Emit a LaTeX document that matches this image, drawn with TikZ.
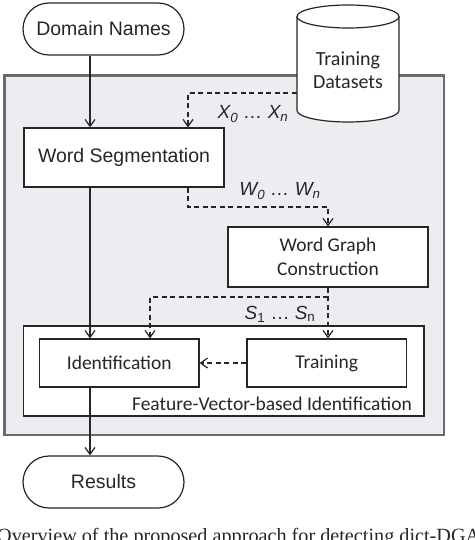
\documentclass[tikz,border=0pt]{standalone}
\usepackage{fontspec}
\newfontfamily\arialf{Liberation Sans}
\newfontfamily\calf{Carlito}
\newfontfamily\timesf{Liberation Serif}
\usetikzlibrary{arrows.meta}
\definecolor{boxgray}{HTML}{ECEDF1}
\definecolor{bordergray}{HTML}{6B6B6B}
\definecolor{ink}{HTML}{262626}
\begin{document}
\begin{tikzpicture}[x=1pt,y=-1pt,
  box/.style={draw=ink, fill=white, rectangle, inner sep=0pt, line width=1.2pt},
  term/.style={box, rounded corners=26pt, minimum width=161pt, minimum height=52pt,
    font=\arialf\fontsize{19.5}{22}\selectfont, text=ink},
  abox/.style={box, font=\arialf\fontsize{19.5}{22}\selectfont, text=ink},
  cbox/.style={box, font=\calf\fontsize{19.5}{24}\selectfont, text=ink, align=center},
  arr/.style={draw=ink, line width=1.2pt, -{Straight Barb[length=7pt,width=10pt]}},
  darr/.style={arr, dash pattern=on 5pt off 3.5pt},
  lbl/.style={font=\arialf\fontsize{19}{22}\selectfont, text=ink, inner sep=0pt}
]
\useasboundingbox (0,0) rectangle (474,540);

% main gray container
\node[draw=bordergray, fill=boxgray, line width=2.5pt, inner sep=0pt,
  minimum width=439.5pt, minimum height=359.5pt] (main) at (224.25,255.25) {};

% cylinder
\filldraw[fill=white, draw=ink, line width=1.2pt]
  (297,16.5) -- (297,110.5) arc[start angle=180, end angle=360, x radius=51pt, y radius=11.5pt]
  -- (399,16.5) arc[start angle=0, end angle=180, x radius=51pt, y radius=11.5pt] -- cycle;
\draw[draw=ink, line width=1.2pt]
  (297,16.5) arc[start angle=180, end angle=360, x radius=51pt, y radius=11.5pt];
\node[inner sep=0pt, minimum width=102pt, align=center,
  font=\calf\fontsize{20}{23.5}\selectfont, text=ink] (td) at (348,70) {Training\\Datasets};

% nodes
\node[term] (dn) at (103.5,29) {Domain Names};
\node[abox, minimum width=200pt, minimum height=59pt] (ws) at (124,157.5) {Word Segmentation};
\node[cbox, minimum width=200pt, minimum height=60pt] (wgc) at (328,257) {Word Graph\\Construction};
\node[box, minimum width=400.5pt, minimum height=90pt] (fv) at (223.75,371) {};
\node[cbox, minimum width=159.5pt, minimum height=48pt] (id) at (119.25,363) {Identification};
\node[cbox, minimum width=159.5pt, minimum height=48pt] (tr) at (326.75,363) {Training};
\node[anchor=base east, inner sep=0pt, font=\calf\fontsize{19.5}{22}\selectfont, text=ink]
  (fvl) at (412,410) {Feature-Vector-based Identification};
\node[term] (res) at (103.5,482) {Results};

% helper coordinates
\coordinate (cx) at (90,0);
\coordinate (dx) at (188,93);
\coordinate (wy) at (0,207);
\coordinate (sy) at (0,297);
\coordinate (sx) at (150,0);

% solid flow
\draw[arr] (dn.south -| cx) -- (ws.north -| cx);
\draw[arr] (ws.south -| cx) -- (id.north -| cx);
\draw[arr] (id.south -| cx) -- (res.north -| cx);

% dashed flow
\draw[darr] (td.west |- dx) -- (dx) -- (ws.north -| dx);
\draw[darr] (ws.south -| dx) -- (dx |- wy) -| (wgc.north);
\draw[darr] (wgc.south) -- (tr.north -| wgc.south);
\draw[darr] (wgc.south |- sy) -| (id.north -| sx);
\draw[darr] (tr.west) -- (id.east);

% labels
\node[lbl] (xl) at (253,114) {\itshape X\textsubscript{0} … X\textsubscript{n}};
\node[lbl] (wl) at (280,191) {\itshape W\textsubscript{0} … W\textsubscript{n}};
\node[lbl] (sl) at (280,314) {\textit{S}\textsubscript{1} … \textit{S}\textsubscript{n}};

% caption (cropped, as in the reference)
\node[anchor=base west, inner sep=0pt, font=\timesf\fontsize{20.2}{22}\selectfont, text=ink]
  (cap) at (-3,542) {Overview of the proposed approach for detecting dict-DGA};
\end{tikzpicture}
\end{document}
